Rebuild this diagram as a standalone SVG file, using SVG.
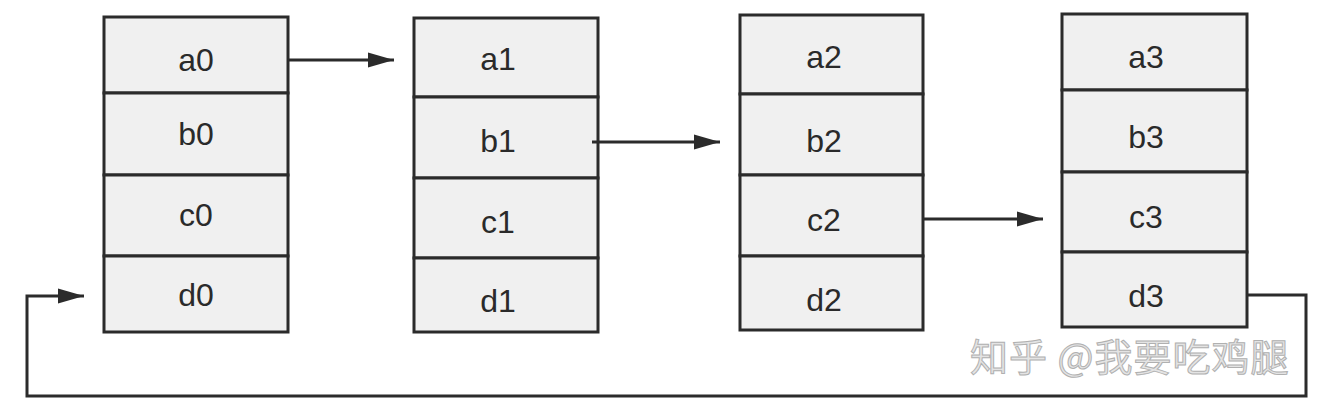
<svg xmlns="http://www.w3.org/2000/svg" width="1324" height="412" viewBox="0 0 1324 412">
<style>
.cell{fill:#f0f0f0;stroke:#2b2b2b;stroke-width:3}
.lbl{font-family:"Liberation Sans",Arial,sans-serif;font-size:32px;fill:#2a2a2a;text-anchor:middle;dominant-baseline:central}
.con{fill:none;stroke:#2b2b2b;stroke-width:3}
.wm{font-family:"Noto Sans CJK SC","Liberation Sans",sans-serif;font-size:38px;fill:#e4e4e4;stroke:#b0b0b0;stroke-width:1}
</style>
<defs>
<marker id="arr" viewBox="0 0 26 16" refX="26" refY="8" markerWidth="26" markerHeight="16" markerUnits="userSpaceOnUse" orient="auto">
<path d="M0,0.5 L26,8 L0,15.5 Z" fill="#2b2b2b"/>
</marker>
</defs>
<rect width="1324" height="412" fill="#ffffff"/>
<g id="node0">
<rect class="cell" x="104" y="17" width="184" height="76"/>
<rect class="cell" x="104" y="93" width="184" height="82"/>
<rect class="cell" x="104" y="175" width="184" height="81"/>
<rect class="cell" x="104" y="256" width="184" height="76"/>
<text class="lbl" x="196" y="60">a0</text>
<text class="lbl" x="196" y="134">b0</text>
<text class="lbl" x="196" y="215">c0</text>
<text class="lbl" x="196" y="295">d0</text>
</g>
<g id="node1">
<rect class="cell" x="414" y="18" width="184" height="79"/>
<rect class="cell" x="414" y="97" width="184" height="81"/>
<rect class="cell" x="414" y="178" width="184" height="80"/>
<rect class="cell" x="414" y="258" width="184" height="74"/>
<text class="lbl" x="498" y="59">a1</text>
<text class="lbl" x="498" y="141">b1</text>
<text class="lbl" x="498" y="222">c1</text>
<text class="lbl" x="498" y="301">d1</text>
</g>
<g id="node2">
<rect class="cell" x="740" y="15" width="183" height="79"/>
<rect class="cell" x="740" y="94" width="183" height="81"/>
<rect class="cell" x="740" y="175" width="183" height="81"/>
<rect class="cell" x="740" y="256" width="183" height="74"/>
<text class="lbl" x="824" y="57">a2</text>
<text class="lbl" x="824" y="141">b2</text>
<text class="lbl" x="824" y="220">c2</text>
<text class="lbl" x="824" y="300">d2</text>
</g>
<g id="node3">
<rect class="cell" x="1062" y="14" width="185" height="76"/>
<rect class="cell" x="1062" y="90" width="185" height="82"/>
<rect class="cell" x="1062" y="172" width="185" height="80"/>
<rect class="cell" x="1062" y="252" width="185" height="75"/>
<text class="lbl" x="1146" y="57">a3</text>
<text class="lbl" x="1146" y="137">b3</text>
<text class="lbl" x="1146" y="217">c3</text>
<text class="lbl" x="1146" y="296">d3</text>
</g>
<g id="connectors">
<path class="con" d="M289,60 H394" marker-end="url(#arr)"/>
<path class="con" d="M592,142 H720" marker-end="url(#arr)"/>
<path class="con" d="M924,219 H1043" marker-end="url(#arr)"/>
<path class="con" d="M1248,295 H1306 V396 H27 V296 H84" marker-end="url(#arr)"/>
</g>
<text class="wm" x="970" y="371" letter-spacing="1">知乎 @我要吃鸡腿</text>
</svg>
